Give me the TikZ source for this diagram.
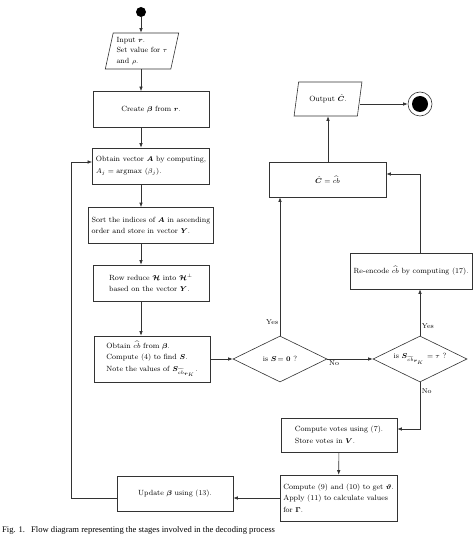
\documentclass[tikz,border=0pt]{standalone}
\usepackage{amsmath}
\usepackage{amssymb}
\usepackage{bm}
\usepackage{fontspec}
\newfontfamily\capfont{Liberation Serif}
\usepackage{tikz}
\usetikzlibrary{shapes,shapes.geometric,arrows.meta,calc}
\tikzstyle{block} = [rectangle, sharp corners, draw=black!80, line width=0.6pt,
                     align=left, minimum width=116pt, minimum height=36pt,
                     font=\fontsize{7.5}{11.5}\selectfont]
\tikzstyle{decision} = [diamond, draw=black!80, line width=0.6pt, aspect=2,
                     inner sep=0pt, minimum width=94pt, minimum height=46pt,
                     font=\fontsize{7.5}{11.5}\selectfont]
\tikzstyle{io} = [trapezium, trapezium left angle=77, trapezium right angle=103,
                     trapezium stretches=true, draw=black!80, line width=0.6pt,
                     align=left, minimum width=68pt, minimum height=36pt,
                     font=\fontsize{7.5}{10.5}\selectfont]
\tikzstyle{line} = [draw=black!80, line width=0.6pt]
\tikzstyle{arr} = [line, -{Latex[length=4.5pt,width=3.5pt]}]
\tikzstyle{lbl} = [font=\fontsize{7}{8}\selectfont, inner sep=1.5pt]

\begin{document}
\begin{tikzpicture}[x=1pt, y=-1pt]
\useasboundingbox (0,0) rectangle (474,545);
\coordinate (spine) at (141,0);

%Start and end
\node[circle, fill=black, minimum size=10pt, inner sep=0pt] at (141,12) (start){};
\node[circle, draw=black!80, line width=0.6pt, minimum size=24pt, inner sep=0pt,
      path picture={\fill[black] (path picture bounding box.center) circle (8pt);}] at (420,104) (stop){};

% Left column
\node[io] at (142,51) (input){Input $\bm{r}$.\\ Set value for $\tau$\\ and $\rho$.};
\node[block] at (151,109.5) (create){Create $\bm{\beta}$ from $\bm{r}$.};
\node[block] at (151,166) (obtA){Obtain vector $\bm{A}$ by computing,\\ $A_j=\mathrm{argmax}\ (\beta_j)$.};
\node[block] at (151,225.5) (sort){Sort the indices of $\bm{A}$ in ascending\\ order and store in vector $\bm{Y}$.};
\node[block] at (151,283) (rowred){Row reduce $\bm{\mathcal{H}}$ into $\bm{\mathcal{H}}^{\perp}$\\ based on the vector $\bm{Y}$.};
\node[block, minimum height=46pt] at (152,359) (obtcb){Obtain $\widehat{cb}$ from $\bm{\beta}$.\\ Compute (4) to find $\bm{S}$.\\ Note the values of $\bm{S}_{\widehat{cb}_{\bm{r}_K}}$.};

% Decisions
\node[decision] at (280,359) (zero){is $\bm{S}\!=\bm{0}$ ?};
\node[decision] at (420,359) (thres){is $\bm{S}_{\widehat{cb}_{\bm{r}_K}}=\tau$ ?};

% Right side
\node[io, minimum height=34pt] at (328,99) (output){Output $\hat{\bm{C}}$.};
\node[block, minimum width=117pt, minimum height=35pt] at (327.5,179.5) (result){$\hat{\bm{C}}=\widehat{cb}$};
\node[block, minimum width=122pt] at (411,271) (reenc){Re-encode $\widehat{cb}$ by computing (17).};
\node[block, minimum height=34pt] at (339,435) (votes){Compute votes using (7).\\ Store votes in $\bm{V}$.};
\node[block, minimum width=115pt, minimum height=46pt] at (338.5,498) (theta){Compute (9) and (10) to get $\bm{\vartheta}$.\\ Apply (11) to calculate values\\ for $\bm{\Gamma}$.};
\node[block, minimum height=35pt] at (175,493.5) (update){Update $\bm{\beta}$ using (13).};

% Connectors
\draw[arr] (start) -- (start |- input.north);
\draw[arr] (input.south -| spine) -- (create.north -| spine);
\draw[arr] (create.south -| spine) -- (obtA.north -| spine);
\draw[arr] (obtA.south -| spine) -- (sort.north -| spine);
\draw[arr] (sort.south -| spine) -- (rowred.north -| spine);
\draw[arr] (rowred.south -| spine) -- (obtcb.north -| spine);
\draw[arr] (obtcb.east) -- (zero.west);
\draw[arr] (zero.east) -- node[lbl, pos=0, below right]{No} (thres.west);
\draw[arr] (zero.north) -- node[lbl, pos=0.1, left]{Yes} (zero.north |- result.south);
\draw[arr] (result.north -| output.south) -- (output.south);
\draw[arr] (stop.west -| output.east) -- (stop.west);
\draw[arr] (thres.north) -- node[lbl, pos=0.2, right]{Yes} (thres.north |- reenc.south);
\draw[arr] (thres.north |- reenc.north) |- ([yshift=5.5pt]result.east);
\draw[arr] (thres.south) |- node[lbl, pos=0.1, right]{No} ([yshift=6pt]votes.east);
\draw[arr] (votes) -- (theta);
\draw[arr] (theta.west) -- (theta.west -| update.east);
\draw[arr] (update.west |- theta.west) -| (71,162) -- ([yshift=4pt]obtA.west);

% Caption
\node[anchor=west, font=\capfont\fontsize{8.6}{9.6}\selectfont, inner sep=0pt] at (2,530) (caption){Fig. 1.\hspace{0.7em}Flow diagram representing the stages involved in the decoding process};
\end{tikzpicture}
\end{document}
